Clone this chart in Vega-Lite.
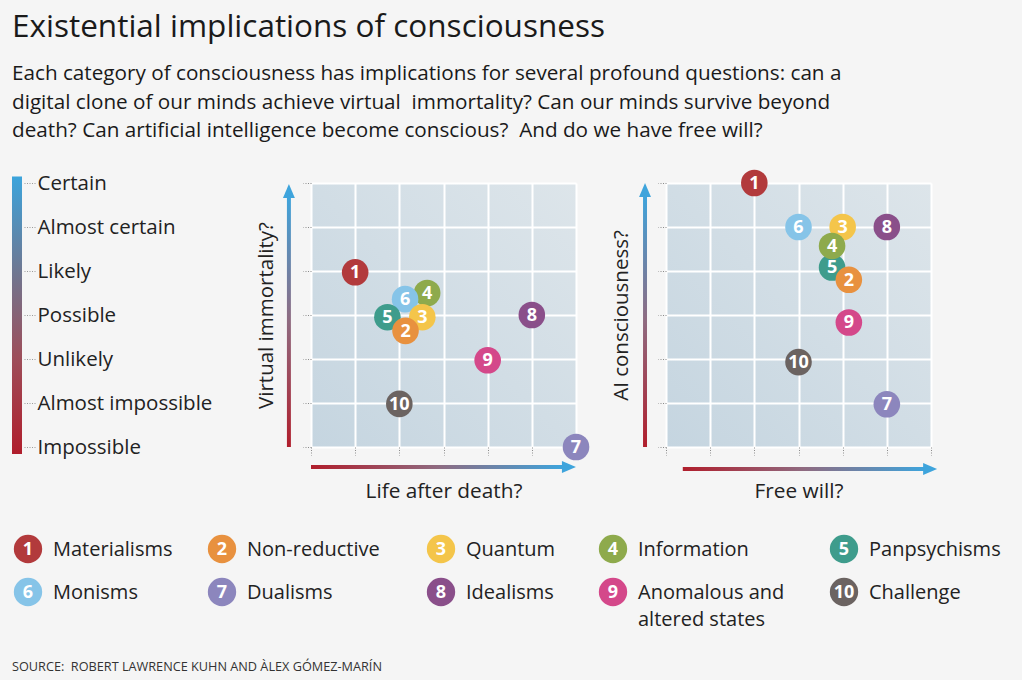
{
  "$schema": "https://vega.github.io/schema/vega-lite/v6.json",
  "background": "#f5f5f5",
  "padding": {"left": 12, "top": 11, "right": 10, "bottom": 6},
  "title": {
    "text": "Existential implications of consciousness",
    "subtitle": [
      "Each category of consciousness has implications for several profound questions: can a",
      "digital clone of our minds achieve virtual\u00a0 immortality? Can our minds survive beyond",
      "death? Can artificial intelligence become conscious?\u00a0 And do we have free will?"
    ],
    "anchor": "start",
    "font": "Open Sans",
    "fontSize": 31.5,
    "fontWeight": "normal",
    "color": "#1a1a1a",
    "subtitleFont": "Open Sans",
    "subtitleFontSize": 20.7,
    "subtitleColor": "#1a1a1a",
    "subtitleLineHeight": 28.5,
    "subtitlePadding": 21,
    "offset": 29
  },
  "datasets": {
    "cats": [
      {"id": 1, "name": "Materialisms", "lifeAfterDeath": 1.0, "virtualImmortality": 3.97, "freeWill": 2.0, "aiConsciousness": 6.0},
      {"id": 6, "name": "Monisms", "lifeAfterDeath": 2.13, "virtualImmortality": 3.36, "freeWill": 3.0, "aiConsciousness": 5.0},
      {"id": 3, "name": "Quantum", "lifeAfterDeath": 2.52, "virtualImmortality": 2.95, "freeWill": 4.0, "aiConsciousness": 5.0},
      {"id": 5, "name": "Panpsychisms", "lifeAfterDeath": 1.73, "virtualImmortality": 2.95, "freeWill": 3.76, "aiConsciousness": 4.08},
      {"id": 4, "name": "Information", "lifeAfterDeath": 2.63, "virtualImmortality": 3.5, "freeWill": 3.76, "aiConsciousness": 4.57},
      {"id": 2, "name": "Non-reductive", "lifeAfterDeath": 2.14, "virtualImmortality": 2.64, "freeWill": 4.14, "aiConsciousness": 3.8},
      {"id": 7, "name": "Dualisms", "lifeAfterDeath": 6.0, "virtualImmortality": 0.0, "freeWill": 5.0, "aiConsciousness": 0.97},
      {"id": 8, "name": "Idealisms", "lifeAfterDeath": 5.0, "virtualImmortality": 3.0, "freeWill": 5.0, "aiConsciousness": 5.0},
      {"id": 9, "name": "Anomalous and\naltered states", "lifeAfterDeath": 4.0, "virtualImmortality": 1.97, "freeWill": 4.14, "aiConsciousness": 2.83},
      {"id": 10, "name": "Challenge", "lifeAfterDeath": 2.0, "virtualImmortality": 0.98, "freeWill": 3.0, "aiConsciousness": 1.93}
    ]
  },
  "config": {
    "view": {"stroke": null},
    "font": "Open Sans",
    "axis": {"labelFont": "Open Sans", "titleFont": "Open Sans"}
  },
  "spacing": 324,
  "bounds": "flush",
  "vconcat": [
    {
      "spacing": 289,
      "bounds": "flush",
      "hconcat": [
        {
          "width": 10,
          "height": 264,
          "data": {"values": [{}]},
          "mark": {
            "type": "rect",
            "fill": {"gradient": "linear", "x1": 0, "y1": 1, "x2": 0, "y2": 0,
              "stops": [
                {"offset": 0, "color": "#b01e2c"},
                {"offset": 0.35, "color": "#9d4e5a"},
                {"offset": 0.65, "color": "#707690"},
                {"offset": 1, "color": "#3ba4dc"}
              ]}
          },
          "encoding": {
            "x": {"datum": 0, "type": "quantitative", "scale": {"domain": [0, 1]}, "axis": null},
            "x2": {"datum": 1},
            "y": {
              "datum": -0.16, "type": "quantitative",
              "scale": {"domain": [0, 6], "nice": false, "zero": false},
              "axis": {
                "orient": "right", "title": null, "values": [0, 1, 2, 3, 4, 5, 6],
                "labelExpr": "['Impossible','Almost impossible','Unlikely','Possible','Likely','Almost certain','Certain'][datum.value]",
                "domain": false, "grid": false, "offset": 2,
                "ticks": true, "tickSize": 11, "tickColor": "#9a9a9a", "tickDash": [1, 1.5], "tickWidth": 1,
                "labelPadding": 2, "labelFontSize": 20.5, "labelColor": "#222222", "labelFont": "Open Sans",
                "labelBaseline": "middle"
              }
            },
            "y2": {"datum": 6.15}
          }
        },
        {
          "spacing": 90,
          "bounds": "flush",
          "hconcat": [
            {
              "width": 265,
              "height": 264,
              "view": {"stroke": null, "fill": {"gradient": "linear", "x1": 0, "y1": 1, "x2": 1, "y2": 0,
                "stops": [{"offset": 0, "color": "#c5d5e0"}, {"offset": 1, "color": "#dde5ea"}]}},
              "layer": [
                {
                  "data": {"name": "cats"},
                  "mark": {"type": "circle", "size": 707, "opacity": 1},
                  "encoding": {
                    "x": {"field": "lifeAfterDeath", "type": "quantitative",
                      "scale": {"domain": [0, 6], "nice": false, "zero": false},
                      "axis": {"values": [0, 1, 2, 3, 4, 5, 6], "grid": true, "gridColor": "#ffffff", "gridWidth": 2,
                        "labels": false, "domain": false, "ticks": true, "tickSize": 8, "tickColor": "#8a8a8a", "tickDash": [1, 1.5],
                        "title": "Life after death?", "titleFontSize": 20.8, "titleFontWeight": "normal", "titleColor": "#222222", "titlePadding": 26}},
                    "y": {"field": "virtualImmortality", "type": "quantitative",
                      "scale": {"domain": [0, 6], "nice": false, "zero": false},
                      "axis": {"values": [0, 1, 2, 3, 4, 5, 6], "grid": true, "gridColor": "#ffffff", "gridWidth": 2,
                        "labels": false, "domain": false, "ticks": true, "tickSize": 8, "tickColor": "#8a8a8a", "tickDash": [1, 1.5],
                        "title": "Virtual immortality?", "titleFontSize": 20.5, "titleFontWeight": "normal", "titleColor": "#222222", "titlePadding": 26}},
                    "color": {"field": "id", "type": "nominal", "legend": null,
                      "scale": {"domain": [1, 2, 3, 4, 5, 6, 7, 8, 9, 10],
                        "range": ["#b23a3c", "#e8913f", "#f4c54a", "#8eaa4c", "#3e9c8c", "#86c4e8", "#8c86bd", "#8a4f8a", "#d4488a", "#6b6361"]}},
                    "order": {"field": "virtualImmortality", "sort": "descending"}
                  }
                },
                {
                  "data": {"name": "cats"},
                  "mark": {"type": "text", "color": "#ffffff", "font": "Open Sans", "fontWeight": "bold", "fontSize": 18, "align": "center", "baseline": "middle", "dy": 1},
                  "encoding": {
                    "x": {"field": "lifeAfterDeath", "type": "quantitative"},
                    "y": {"field": "virtualImmortality", "type": "quantitative"},
                    "text": {"field": "id", "type": "nominal"}
                  }
                },
                {
                  "data": {"values": [{}]},
                  "mark": {"type": "rect", "fill": {"gradient": "linear", "x1": 0, "y1": 1, "x2": 0, "y2": 0,
                    "stops": [{"offset": 0, "color": "#b01e2c"}, {"offset": 0.5, "color": "#8f6a80"}, {"offset": 1, "color": "#3ea4dc"}]}},
                  "encoding": {"x": {"datum": -0.545, "type": "quantitative"}, "x2": {"datum": -0.455}, "y": {"datum": 0, "type": "quantitative"}, "y2": {"datum": 5.7}}
                },
                {
                  "data": {"values": [{}]},
                  "mark": {"type": "point", "shape": "M0,-1L0.85,1L-0.85,1Z", "filled": true, "fill": "#3ea4dc", "opacity": 1, "size": 196, "strokeWidth": 0},
                  "encoding": {"x": {"datum": -0.5, "type": "quantitative"}, "y": {"datum": 5.82, "type": "quantitative"}}
                },
                {
                  "data": {"values": [{}]},
                  "mark": {"type": "rect", "fill": {"gradient": "linear", "x1": 0, "y1": 0, "x2": 1, "y2": 0,
                    "stops": [{"offset": 0, "color": "#b01e2c"}, {"offset": 0.5, "color": "#8f6a80"}, {"offset": 1, "color": "#3ea4dc"}]}},
                  "encoding": {"x": {"datum": 0, "type": "quantitative"}, "x2": {"datum": 5.7}, "y": {"datum": -0.5, "type": "quantitative"}, "y2": {"datum": -0.41}}
                },
                {
                  "data": {"values": [{}]},
                  "mark": {"type": "point", "shape": "M1,0L-1,-0.85L-1,0.85Z", "filled": true, "fill": "#3ea4dc", "opacity": 1, "size": 196, "strokeWidth": 0},
                  "encoding": {"x": {"datum": 5.84, "type": "quantitative"}, "y": {"datum": -0.455, "type": "quantitative"}}
                }
              ]
            },
            {
              "width": 265,
              "height": 264,
              "view": {"stroke": null, "fill": {"gradient": "linear", "x1": 0, "y1": 1, "x2": 1, "y2": 0,
                "stops": [{"offset": 0, "color": "#c5d5e0"}, {"offset": 1, "color": "#dde5ea"}]}},
              "layer": [
                {
                  "data": {"name": "cats"},
                  "mark": {"type": "circle", "size": 707, "opacity": 1},
                  "encoding": {
                    "x": {"field": "freeWill", "type": "quantitative",
                      "scale": {"domain": [0, 6], "nice": false, "zero": false},
                      "axis": {"values": [0, 1, 2, 3, 4, 5, 6], "grid": true, "gridColor": "#ffffff", "gridWidth": 2,
                        "labels": false, "domain": false, "ticks": true, "tickSize": 8, "tickColor": "#8a8a8a", "tickDash": [1, 1.5],
                        "title": "Free will?", "titleFontSize": 20.8, "titleFontWeight": "normal", "titleColor": "#222222", "titlePadding": 26}},
                    "y": {"field": "aiConsciousness", "type": "quantitative",
                      "scale": {"domain": [0, 6], "nice": false, "zero": false},
                      "axis": {"values": [0, 1, 2, 3, 4, 5, 6], "grid": true, "gridColor": "#ffffff", "gridWidth": 2,
                        "labels": false, "domain": false, "ticks": true, "tickSize": 8, "tickColor": "#8a8a8a", "tickDash": [1, 1.5],
                        "title": "AI consciousness?", "titleFontSize": 20.5, "titleFontWeight": "normal", "titleColor": "#222222", "titlePadding": 26}},
                    "color": {"field": "id", "type": "nominal", "legend": null,
                      "scale": {"domain": [1, 2, 3, 4, 5, 6, 7, 8, 9, 10],
                        "range": ["#b23a3c", "#e8913f", "#f4c54a", "#8eaa4c", "#3e9c8c", "#86c4e8", "#8c86bd", "#8a4f8a", "#d4488a", "#6b6361"]}}
                  }
                },
                {
                  "data": {"name": "cats"},
                  "mark": {"type": "text", "color": "#ffffff", "font": "Open Sans", "fontWeight": "bold", "fontSize": 18, "align": "center", "baseline": "middle", "dy": 1},
                  "encoding": {
                    "x": {"field": "freeWill", "type": "quantitative"},
                    "y": {"field": "aiConsciousness", "type": "quantitative"},
                    "text": {"field": "id", "type": "nominal"}
                  }
                },
                {
                  "data": {"values": [{}]},
                  "mark": {"type": "rect", "fill": {"gradient": "linear", "x1": 0, "y1": 1, "x2": 0, "y2": 0,
                    "stops": [{"offset": 0, "color": "#b01e2c"}, {"offset": 0.5, "color": "#8f6a80"}, {"offset": 1, "color": "#3ea4dc"}]}},
                  "encoding": {"x": {"datum": -0.52, "type": "quantitative"}, "x2": {"datum": -0.43}, "y": {"datum": 0, "type": "quantitative"}, "y2": {"datum": 5.72}}
                },
                {
                  "data": {"values": [{}]},
                  "mark": {"type": "point", "shape": "M0,-1L0.85,1L-0.85,1Z", "filled": true, "fill": "#3ea4dc", "opacity": 1, "size": 196, "strokeWidth": 0},
                  "encoding": {"x": {"datum": -0.475, "type": "quantitative"}, "y": {"datum": 5.84, "type": "quantitative"}}
                },
                {
                  "data": {"values": [{}]},
                  "mark": {"type": "rect", "fill": {"gradient": "linear", "x1": 0, "y1": 0, "x2": 1, "y2": 0,
                    "stops": [{"offset": 0, "color": "#b01e2c"}, {"offset": 0.5, "color": "#8f6a80"}, {"offset": 1, "color": "#3ea4dc"}]}},
                  "encoding": {"x": {"datum": 0.38, "type": "quantitative"}, "x2": {"datum": 5.85}, "y": {"datum": -0.545, "type": "quantitative"}, "y2": {"datum": -0.455}}
                },
                {
                  "data": {"values": [{}]},
                  "mark": {"type": "point", "shape": "M1,0L-1,-0.85L-1,0.85Z", "filled": true, "fill": "#3ea4dc", "opacity": 1, "size": 196, "strokeWidth": 0},
                  "encoding": {"x": {"datum": 5.98, "type": "quantitative"}, "y": {"datum": -0.5, "type": "quantitative"}}
                }
              ]
            }
          ]
        }
      ]
    },
    {
      "width": 1000,
      "height": 140,
      "data": {"name": "cats"},
      "title": {"text": "SOURCE:\u00a0 ROBERT LAWRENCE KUHN AND ÀLEX GÓMEZ-MARÍN", "orient": "bottom", "anchor": "start",
        "font": "Open Sans", "fontSize": 12.7, "fontWeight": "normal", "color": "#333333", "offset": 14},
      "encoding": {
        "x": {"field": "id", "type": "quantitative", "axis": null,
          "scale": {"domain": [1, 2, 3, 4, 5, 6, 7, 8, 9, 10], "range": [16, 210, 429, 601, 832, 16, 210, 429, 601, 832], "nice": false, "zero": false}},
        "y": {"field": "id", "type": "quantitative", "axis": null,
          "scale": {"domain": [1, 5, 6, 10], "range": [42, 42, 85, 85], "nice": false, "zero": false}}
      },
      "layer": [
        {
          "mark": {"type": "circle", "size": 804, "opacity": 1},
          "encoding": {
            "color": {"field": "id", "type": "nominal", "legend": null,
              "scale": {"domain": [1, 2, 3, 4, 5, 6, 7, 8, 9, 10],
                "range": ["#b23a3c", "#e8913f", "#f4c54a", "#8eaa4c", "#3e9c8c", "#86c4e8", "#8c86bd", "#8a4f8a", "#d4488a", "#6b6361"]}}
          }
        },
        {
          "mark": {"type": "text", "color": "#ffffff", "font": "Open Sans", "fontWeight": "bold", "fontSize": 18, "align": "center", "baseline": "middle", "dy": 1},
          "encoding": {"text": {"field": "id", "type": "nominal"}}
        },
        {
          "mark": {"type": "text", "color": "#222222", "font": "Open Sans", "fontSize": 20, "align": "left", "baseline": "alphabetic", "dx": 25, "dy": 7, "lineBreak": "\n", "lineHeight": 27},
          "encoding": {"text": {"field": "name", "type": "nominal"}}
        }
      ]
    }
  ]
}
